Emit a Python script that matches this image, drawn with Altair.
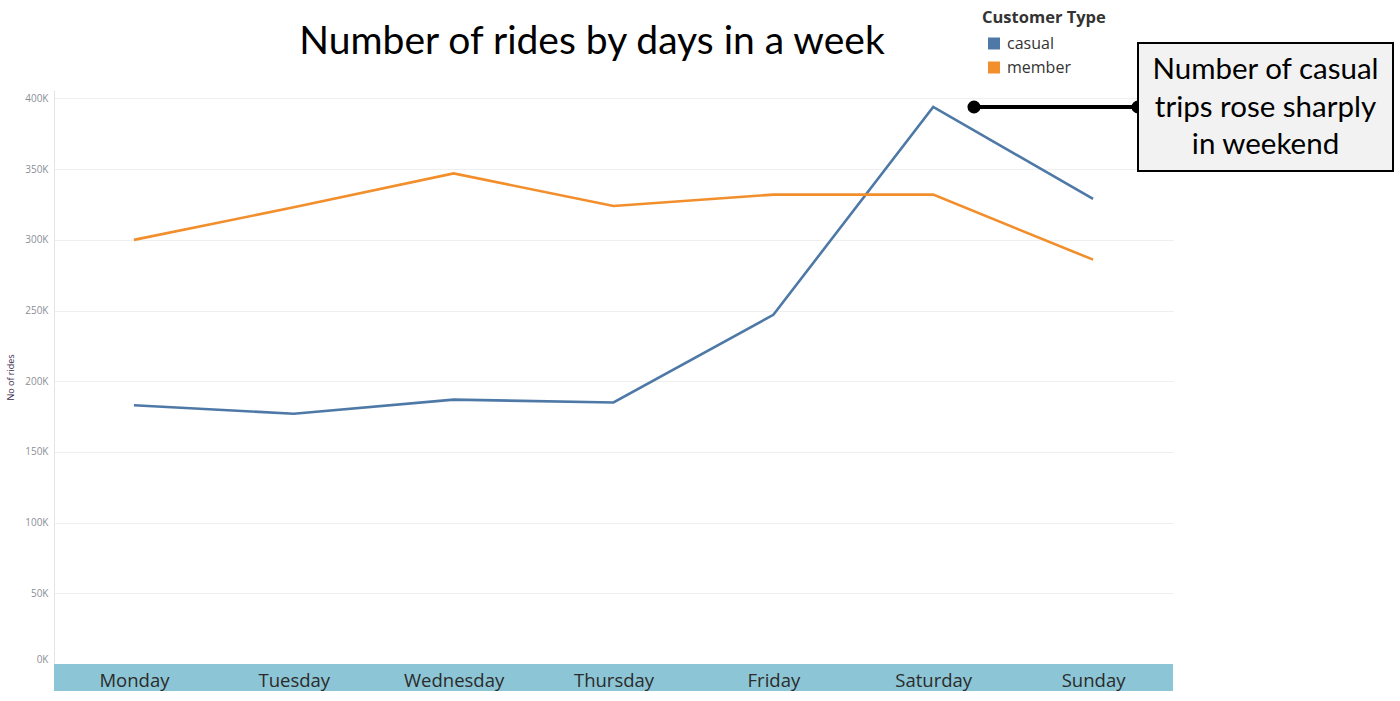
import altair as alt
import pandas as pd

days = ["Monday", "Tuesday", "Wednesday", "Thursday", "Friday", "Saturday", "Sunday"]
casual = [183000, 177000, 187000, 185000, 247000, 394000, 329000]
member = [300000, 323000, 347000, 324000, 332000, 332000, 286000]
series = ["casual", "member"]
colors = ["#4e79a7", "#f28e2b"]
title_text = "Number of rides by days in a week"
note_lines = ["Number of casual", "trips rose sharply", "in weekend"]

rows = []
for d, c, m in zip(days, casual, member):
    rows.append({"day": d, "type": "casual", "rides": c})
    rows.append({"day": d, "type": "member", "rides": m})
df = pd.DataFrame(rows)

W, H = 1119, 574
FONT = "Lato"
UI = "Open Sans"

one = alt.Data(values=[{}])

band = alt.Chart(one).mark_rect(color="#8cc5d5").encode(
    x=alt.value(0), x2=alt.value(W), y=alt.value(H), y2=alt.value(H + 27)
)

lines = alt.Chart(df).mark_line(strokeWidth=2.6).encode(
    x=alt.X("day:N", sort=days, scale=alt.Scale(type="point", padding=0.5),
            axis=alt.Axis(title=None, domain=False, ticks=False, grid=False,
                          labelFontSize=18.5, labelColor="#2b2b2b", labelFont=UI,
                          labelBaseline="middle", labelPadding=16, labelAngle=0,
                          zindex=2)),
    y=alt.Y("rides:Q", scale=alt.Scale(domain=[0, 406000], nice=False, zero=True),
            axis=alt.Axis(title="No of rides", values=[0, 50000, 100000, 150000, 200000,
                                                         250000, 300000, 350000, 400000],
                          labelExpr="datum.value / 1000 + 'K'", ticks=False,
                          domain=True, domainColor="#e4e4e4", gridColor="#efefef",
                          labelColor="#8a9099", labelFontSize=10, labelFont=UI,
                          labelPadding=6, labelFlush=True,
                          titleFontSize=9, titleFontWeight="normal", titleColor="#3b2b4b",
                          titleFont=UI, titlePadding=9)),
    color=alt.Color("type:N", scale=alt.Scale(domain=series, range=colors),
                    legend=alt.Legend(title="Customer Type", orient="none",
                                      legendX=928, legendY=-80,
                                      symbolType="square", symbolSize=36,
                                      symbolStrokeWidth=6, symbolOpacity=1,
                                      titleFontSize=16.5, titleFont=UI, titleColor="#333333",
                                      titleFontWeight="bold", titlePadding=9,
                                      labelFontSize=16, labelFont=UI, labelColor="#333333",
                                      labelOffset=5, symbolOffset=4, rowPadding=-6)),
)

title = alt.Chart(one).mark_text(
    text=title_text, font=FONT, fontSize=39, color="black", align="center",
    baseline="middle"
).encode(x=alt.value(538), y=alt.value(-48))

connector = alt.Chart(one).mark_rule(color="black", strokeWidth=4).encode(
    x=alt.value(920), x2=alt.value(1084), y=alt.value(17)
)
dot1 = alt.Chart(one).mark_point(filled=True, color="black", size=170, opacity=1).encode(
    x=alt.value(920), y=alt.value(17)
)
dot2 = alt.Chart(one).mark_point(filled=True, color="black", size=170, opacity=1).encode(
    x=alt.value(1084), y=alt.value(17)
)
box = alt.Chart(one).mark_rect(fill="#f2f2f2", stroke="black", strokeWidth=2).encode(
    x=alt.value(1084), x2=alt.value(1339), y=alt.value(-47), y2=alt.value(81)
)
note = alt.Chart(one).mark_text(
    text=note_lines, font=FONT, fontSize=29.5, color="black", align="center",
    baseline="middle", lineHeight=37.5
).encode(x=alt.value(1211.5), y=alt.value(-20))

chart = alt.layer(band, lines, title, connector, dot1, dot2, box, note).properties(
    width=W, height=H,
    autosize=alt.AutoSizeParams(type="none"),
    padding={"left": 54, "top": 90, "right": 227, "bottom": 37},
).configure(background="white").configure_view(stroke=None)

chart.save("out.html", embed_options={"renderer": "svg", "actions": False})
